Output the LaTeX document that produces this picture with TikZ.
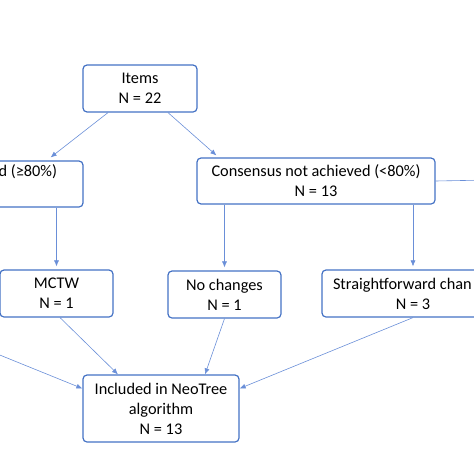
\documentclass[tikz,border=0pt]{standalone}
\usepackage{fontspec}
\setmainfont{Carlito}
\usetikzlibrary{arrows.meta}
\definecolor{boxblue}{HTML}{4472C4}
\definecolor{lineblue}{HTML}{6A8FD8}

\begin{document}
\begin{tikzpicture}[x=1pt,y=-1pt,
  stepbox/.style={draw=boxblue, line width=1.2pt, rounded corners=4pt, align=center,
    inner sep=0pt, font=\fontsize{16.3}{20}\selectfont},
  link/.style={draw=lineblue, line width=0.6pt, -{Latex[length=6pt,width=5pt]}}]
\useasboundingbox (0,0) rectangle (474,474);
\clip (0,0) rectangle (474,474);

\node[stepbox, minimum width=114pt, minimum height=47pt] (items) at (140,88.5) {Items\\N = 22};
\node[stepbox, minimum width=233pt, minimum height=46pt] (achieved) at (-33.5,184) {\makebox[181pt][r]{d (≥80\%)}\\\strut};
\node[stepbox, minimum width=238pt, minimum height=46pt] (notach) at (316,181) {Consensus not achieved (<80\%)\\N = 13};
\node[stepbox, minimum width=113pt, minimum height=47pt] (mctw) at (56.5,293.5) {MCTW\\N = 1};
\node[stepbox, minimum width=113pt, minimum height=47pt] (nochg) at (224.5,294.5) {No changes\\N = 1};
\node[stepbox, minimum width=182pt, minimum height=47pt] (straight) at (413,293.5) {\makebox[160pt][l]{Straightforward chan}\\N = 3};
\node[stepbox, minimum width=156pt, minimum height=67pt] (included) at (161,408.5) {Included in NeoTree\\algorithm\\N = 13};
\coordinate (src) at (-20,347);
\coordinate (out) at (490,180);

\draw[link] ([xshift=-32pt]items.south) -- ([xshift=-33pt,yshift=3pt]achieved.north east);
\draw[link] ([xshift=28pt]items.south) -- ([xshift=20pt,yshift=2pt]notach.north west);
\draw[link] (mctw.north |- achieved.south) -- ([yshift=3pt]mctw.north);
\draw[link] (nochg.north |- notach.south) -- ([yshift=3pt]nochg.north);
\draw[link] (straight.north |- notach.south) -- ([yshift=3pt]straight.north);
\draw[link] ([xshift=3.5pt]mctw.south) -- ([xshift=-43pt]included.north);
\draw[link] (nochg.south) -- ([xshift=44pt]included.north);
\draw[link] (straight.south) -- ([yshift=20pt]included.east);
\draw[link] (src) -- ([yshift=20pt]included.west);
\draw[lineblue, line width=0.6pt] (notach.east) -- (out);
\end{tikzpicture}
\end{document}
